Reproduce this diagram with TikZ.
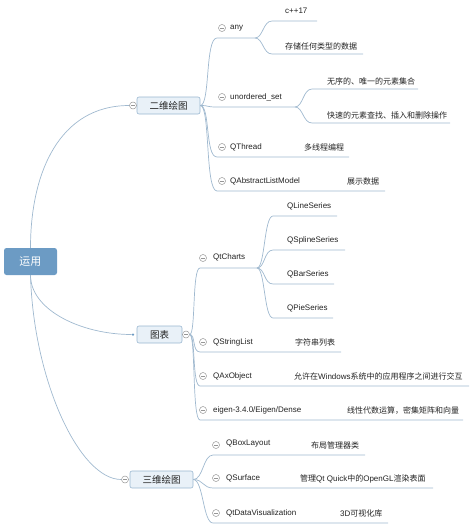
\documentclass[tikz,border=0pt]{standalone}
\usepackage{fontspec}
\setmainfont{Liberation Sans}
\newfontfamily\cjk{Noto Sans CJK SC}
\usetikzlibrary{positioning}
\definecolor{rootcolor}{RGB}{108,155,196}
\definecolor{boxcolor}{RGB}{233,241,248}
\definecolor{boxline}{RGB}{152,182,208}
\definecolor{linkcolor}{RGB}{160,185,207}
\definecolor{foldcolor}{RGB}{150,150,150}
\definecolor{textcolor}{RGB}{34,34,34}

\tikzset{
  link/.style={draw=linkcolor, line width=0.7pt},
  rootbox/.style={fill=rootcolor, rounded corners=2.5pt, minimum width=53pt,
    minimum height=27pt, inner sep=0pt, text=white, font=\cjk\fontsize{11}{13}\selectfont},
  mainbox/.style={draw=boxline, fill=boxcolor, rounded corners=2pt, minimum height=17pt,
    line width=0.6pt, inner sep=0pt, text=textcolor, font=\cjk\fontsize{9.5}{11}\selectfont},
  topic/.style={anchor=west, inner sep=0pt, text=textcolor, font=\fontsize{8}{9}\selectfont},
  cjktopic/.style={topic, font=\cjk\fontsize{8}{9}\selectfont},
  fold/.style={circle, draw=foldcolor, fill=white, line width=0.5pt, minimum size=7pt,
    inner sep=0pt, path picture={\draw[foldcolor, line width=0.5pt]
      ([xshift=-2pt]path picture bounding box.center) --
      ([xshift=2pt]path picture bounding box.center);}},
  dot/.style={circle, fill=rootcolor, minimum size=2.5pt, inner sep=0pt},
}

\begin{document}
\begin{tikzpicture}[x=1pt, y=-1pt]
  % 1 unit = 1px of the map, y grows downwards
  \useasboundingbox (0,0) rectangle (474,527);

  % Central topic
  \node[rootbox] (root) at (30.5,261.5) {运用};

  % Main topics
  \node[mainbox, minimum width=63pt] (t2d) at (168.5,105.5) {二维绘图};
  \node[mainbox, minimum width=45pt] (chart) at (159.5,334.5) {图表};
  \node[mainbox, minimum width=63pt] (t3d) at (161.5,479.5) {三维绘图};
  \node[fold] (t2d-f) at (133,105.5) {};
  \node[fold] (chart-f) at (186,334.5) {};
  \node[fold] (t3d-f) at (125,479.5) {};
  \node[dot] (chart-d) at (133,334.5) {};

  % Root -> main topics
  \draw[link] (root.north) .. controls +(0,-75) and +(-70,0) .. (t2d-f.west);
  \draw[link] (root.south) .. controls +(0,35) and +(-50,0) .. (chart-d.west);
  \draw[link] (root.south) .. controls +(3,105) and +(-42,0) .. (t3d-f.west);

  % 二维绘图 -> subtopics (name / underline y / underline end)
  \foreach \n/\y/\xe in {any/38/255, uset/107/295, thread/157/349, alm/191/385} {
    \coordinate (\n-a) at (217,\y);
    \coordinate (\n-b) at (\xe,\y);
    \draw[link] (t2d.east) .. controls +(10,0) and +(-12,0) .. (\n-a) -- (\n-b);
    \node[fold] (\n-f) at (222,\y-10) {};
  }
  \node[topic] (any) at (230,28) {any};
  \node[topic] (uset) at (230,97) {unordered\_set};
  \node[topic] (thread) at (230,147) {QThread};
  \node[cjktopic] (thread-t) at (304,147) {多线程编程};
  \node[topic] (alm) at (230,181) {QAbstractListModel};
  \node[cjktopic] (alm-t) at (347,181) {展示数据};

  % any -> details
  \foreach \n/\y/\xe in {cpp/21/317, store/54/363} {
    \coordinate (\n-a) at (272,\y);
    \coordinate (\n-b) at (\xe,\y);
    \draw[link] (any-b) .. controls +(8,0) and +(-9,0) .. (\n-a) -- (\n-b);
  }
  \node[topic] (cpp) at (285,11) {c++17};
  \node[cjktopic] (store) at (285,46) {存储任何类型的数据};

  % unordered_set -> details
  \foreach \n/\y/\xe in {uniq/89/418, fast/123/450} {
    \coordinate (\n-a) at (312,\y);
    \coordinate (\n-b) at (\xe,\y);
    \draw[link] (uset-b) .. controls +(8,0) and +(-9,0) .. (\n-a) -- (\n-b);
  }
  \node[cjktopic] (uniq) at (327,81) {无序的、唯一的元素集合};
  \node[cjktopic] (fast) at (327,115) {快速的元素查找、插入和删除操作};

  % 图表 -> subtopics
  \foreach \n/\y/\xe in {qtc/268/257, strl/352/341, axo/386/469, eig/420/463} {
    \coordinate (\n-a) at (200,\y);
    \coordinate (\n-b) at (\xe,\y);
    \draw[link] (chart-f.east) .. controls +(6,0) and +(-8,0) .. (\n-a) -- (\n-b);
    \node[fold] (\n-f) at (203,\y-10) {};
  }
  \node[topic] (qtc) at (213,257) {QtCharts};
  \node[topic] (strl) at (213,342) {QStringList};
  \node[cjktopic] (strl-t) at (295,342) {字符串列表};
  \node[topic] (axo) at (213,376) {QAxObject};
  \node[topic] (axo-t) at (294,376) {{\cjk 允许在}Windows{\cjk 系统中的应用程序之间进行交互}};
  \node[topic] (eig) at (213,410) {eigen-3.4.0/Eigen/Dense};
  \node[cjktopic] (eig-t) at (347,411) {线性代数运算，密集矩阵和向量};

  % QtCharts -> series
  \foreach \n/\y/\xe/\t in {line/216/337/QLineSeries, spl/250/345/QSplineSeries,
                            bar/284/334/QBarSeries, pie/318/333/QPieSeries} {
    \coordinate (\n-a) at (273,\y);
    \coordinate (\n-b) at (\xe,\y);
    \draw[link] (qtc-b) .. controls +(8,0) and +(-9,0) .. (\n-a) -- (\n-b);
    \node[topic] (\n) at (287,\y-10) {\t};
  }

  % 三维绘图 -> subtopics
  \foreach \n/\y/\xe in {box/455/365, surf/488/433, dv/523/388} {
    \coordinate (\n-a) at (213,\y);
    \coordinate (\n-b) at (\xe,\y);
    \draw[link] (t3d.east) .. controls +(10,0) and +(-10,0) .. (\n-a) -- (\n-b);
    \node[fold] (\n-f) at (216,\y-10) {};
  }
  \node[topic] (box) at (226,444) {QBoxLayout};
  \node[cjktopic] (box-t) at (311,445) {布局管理器类};
  \node[topic] (surf) at (226,478) {QSurface};
  \node[topic] (surf-t) at (300,479) {{\cjk 管理}Qt Quick{\cjk 中的}OpenGL{\cjk 渲染表面}};
  \node[topic] (dv) at (226,513) {QtDataVisualization};
  \node[topic] (dv-t) at (340,513) {3D{\cjk 可视化库}};

\end{tikzpicture}
\end{document}
